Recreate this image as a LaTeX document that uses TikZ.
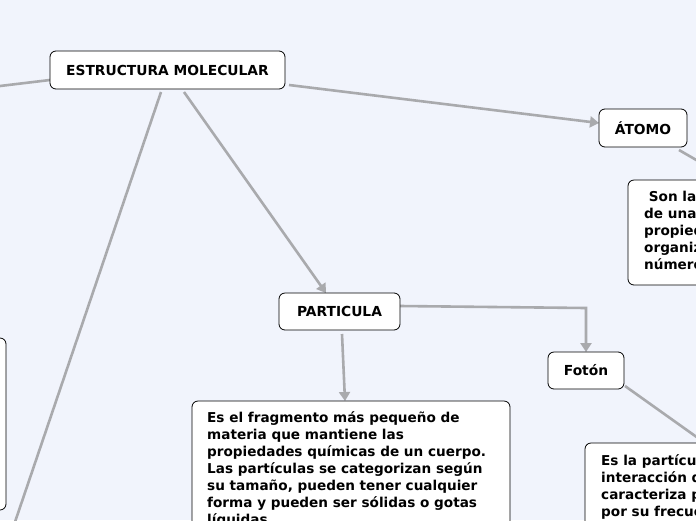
\documentclass[tikz,border=0pt]{standalone}
\usepackage{fontspec}
\setmainfont{DejaVu Sans}
\usetikzlibrary{arrows.meta}
\definecolor{bg}{HTML}{F1F4FC}
\definecolor{ln}{HTML}{A9AAAD}
\begin{document}
\begin{tikzpicture}[x=1pt,y=-1pt,
  box/.style={draw=black,fill=white,rounded corners=6pt,line width=0.8pt},
  lbl/.style={font=\bfseries\fontsize{13.8}{17}\selectfont,inner sep=0pt},
  desc/.style={font=\bfseries\fontsize{13.6}{17}\selectfont,align=left,anchor=north west,inner sep=0pt},
  conn/.style={draw=ln,line width=2.6pt},
  arr/.style={conn,-{Triangle[length=9pt,width=11pt]}}]
\fill[bg] (0,0) rectangle (696,520);
\useasboundingbox (0,0) rectangle (696,520);
\clip (0,0) rectangle (696,520);
% connectors
\coordinate (offL) at (0,86);
\coordinate (offB) at (15,522);
\coordinate (offA) at (698,161);
\coordinate (offF) at (698,438);
\coordinate (bend) at (586,308);
\draw[conn] (50,80) -- (offL);
\draw[conn] (161,92) -- (offB);
\draw[arr] (289,85) -- (599,123);
\draw[arr] (184,92) -- (326,293);
\draw[arr] (400,306) -- (bend) -- (586,352);
\draw[arr] (342,334) -- (345,401);
\draw[conn] (679,150) -- (offA);
\draw[conn] (625,386) -- (offF);
% boxes
\draw[box] (50,51) rectangle (285,89);
\node[lbl] (em) at (167.5,70) {ESTRUCTURA MOLECULAR};
\draw[box] (599,109) rectangle (687,147);
\node[lbl] (at) at (643,128) {ÁTOMO};
\draw[box] (279,293) rectangle (400,330);
\node[lbl] (pa) at (339.5,311.5) {PARTICULA};
\draw[box] (548,352) rectangle (624,389);
\node[lbl] (fo) at (586,370.5) {Fotón};
\draw[box] (628,180) rectangle (720,285);
\node[desc] (atd) at (644,191) {\ Son las\\de una\\propiedades\\organizan\\número};
\draw[box] (192,401) rectangle (510,540);
\node[desc] (pad) at (207,411) {Es el fragmento más pequeño de\\materia que mantiene las\\propiedades químicas de un cuerpo.\\Las partículas se categorizan según\\su tamaño, pueden tener cualquier\\forma y pueden ser sólidas o gotas\\líquidas.};
\draw[box] (585,443) rectangle (720,540);
\node[desc] (fod) at (601,454) {Es la partícula\\interacción de\\caracteriza por\\por su frecuencia};
\draw[box] (-20,338) rectangle (6,510);
\end{tikzpicture}
\end{document}
